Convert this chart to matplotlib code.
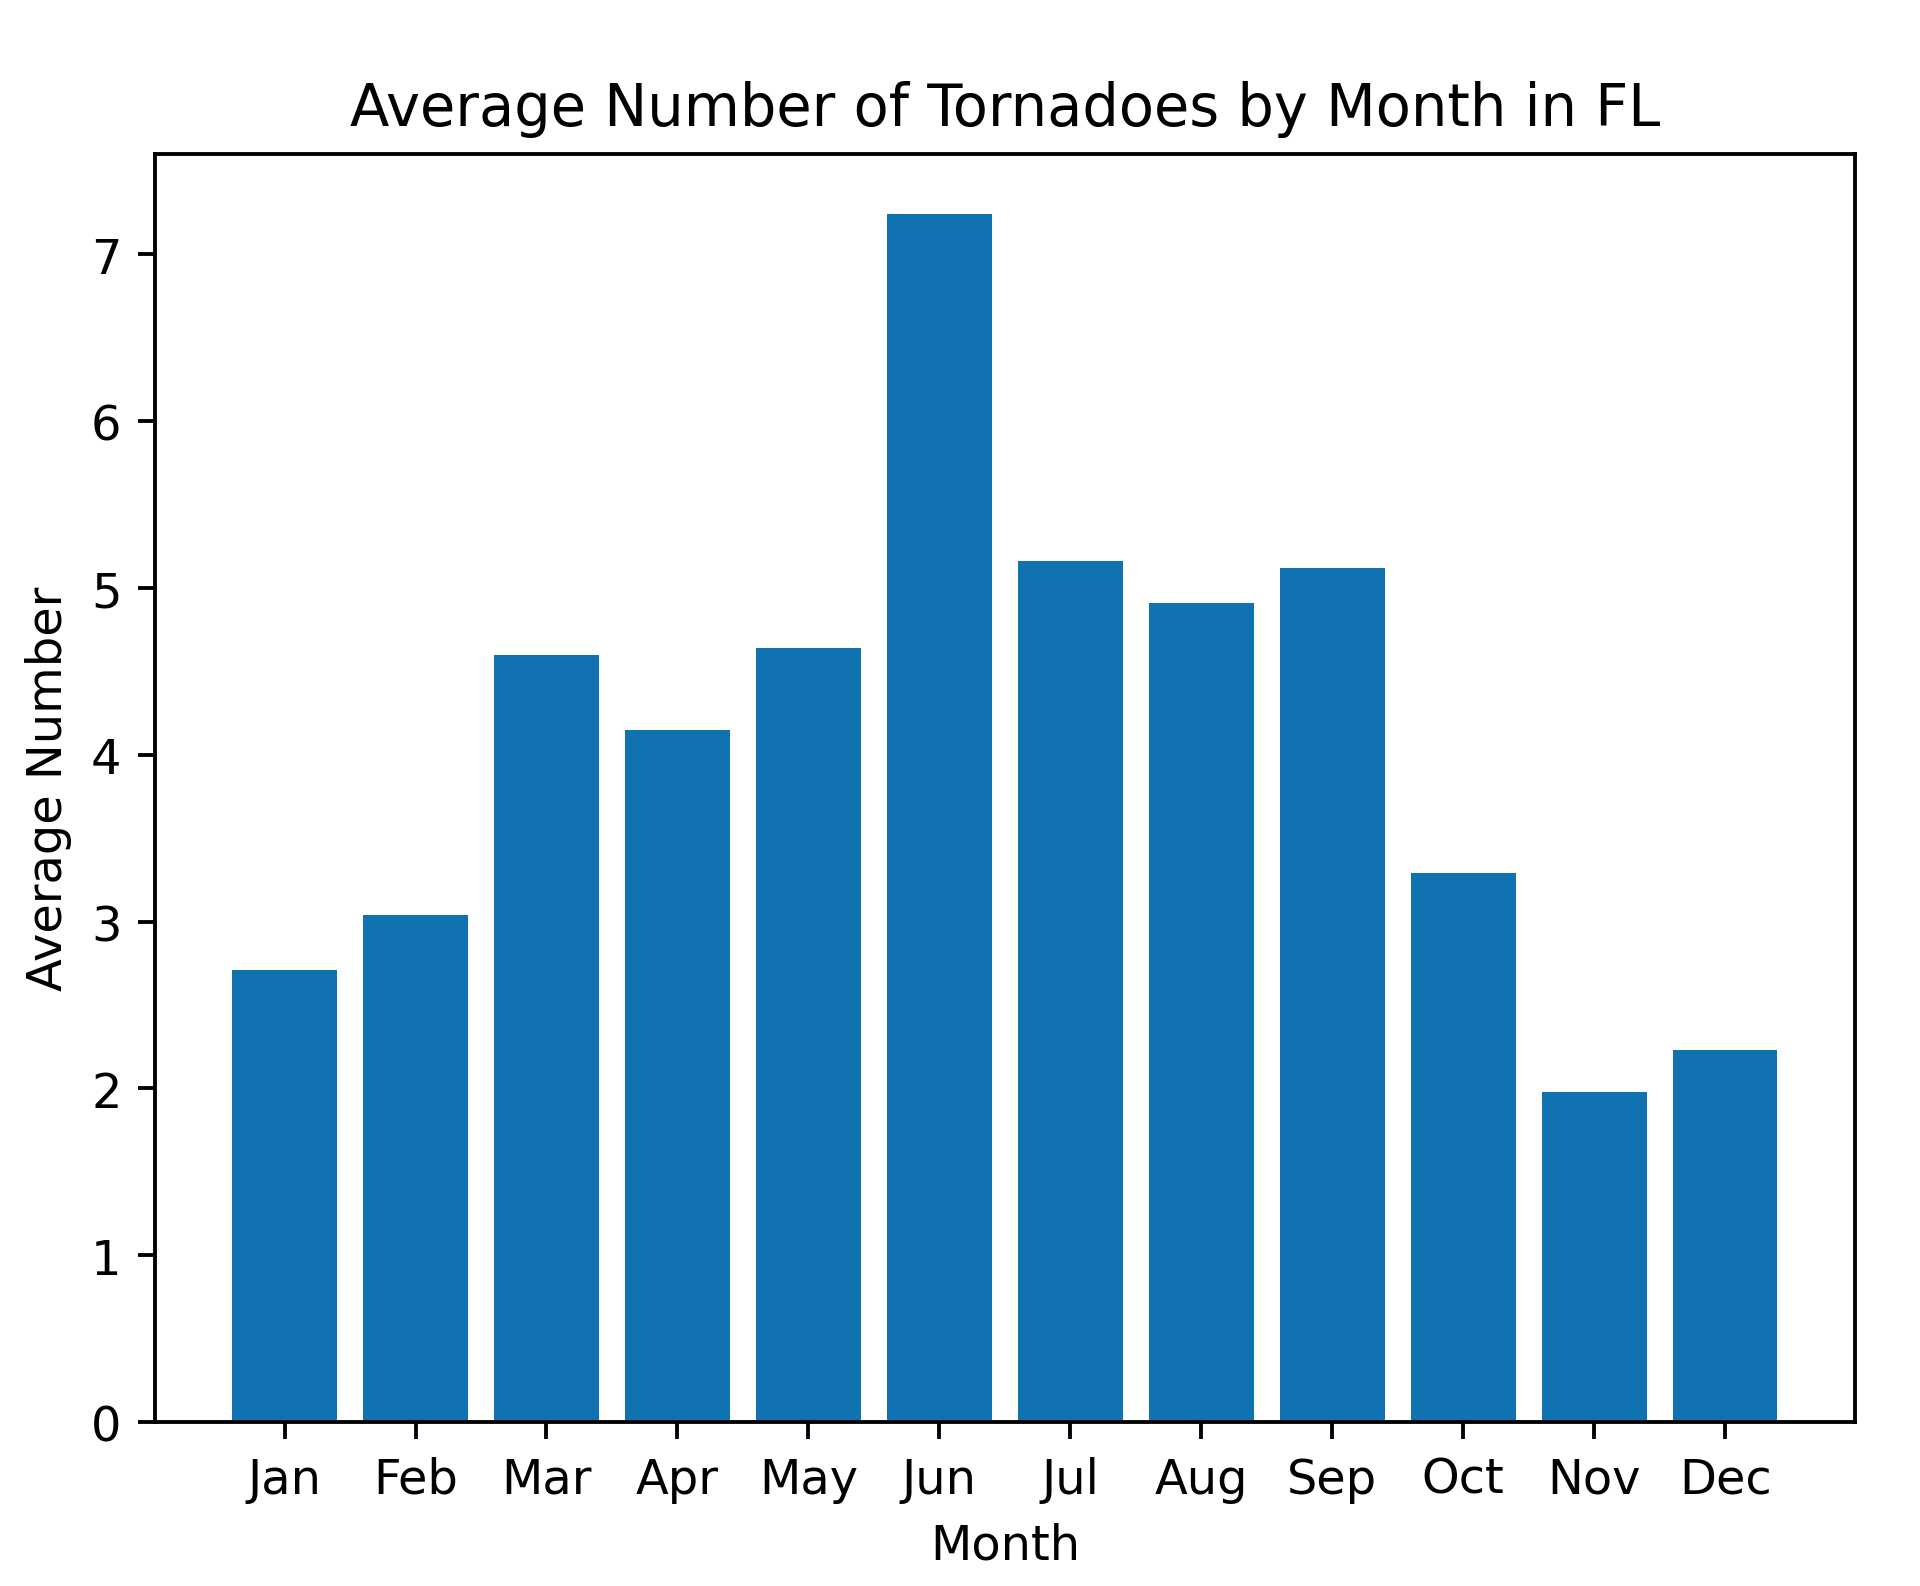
import matplotlib
matplotlib.use('Agg')
import matplotlib.pyplot as plt

# monthly averages
months = ['Jan', 'Feb', 'Mar', 'Apr', 'May', 'Jun',
          'Jul', 'Aug', 'Sep', 'Oct', 'Nov', 'Dec']
avg_tornadoes = [2.71, 3.04, 4.60, 4.15, 4.64, 7.24,
                 5.16, 4.91, 5.12, 3.29, 1.98, 2.23]

DPI = 345
fig = plt.figure(figsize=(1920 / DPI, 1587 / DPI), dpi=DPI)
ax = fig.add_axes([0.0807, 0.1033, 0.966 - 0.0807, 0.9023 - 0.1033])
ax.bar(months, avg_tornadoes, color='#1072b0', width=0.8)

ax.set_title('Average Number of Tornadoes by Month in FL', fontsize=12)
ax.set_xlabel('Month')
ax.set_ylabel('Average Number')

fig.savefig('out.png', dpi=DPI)
